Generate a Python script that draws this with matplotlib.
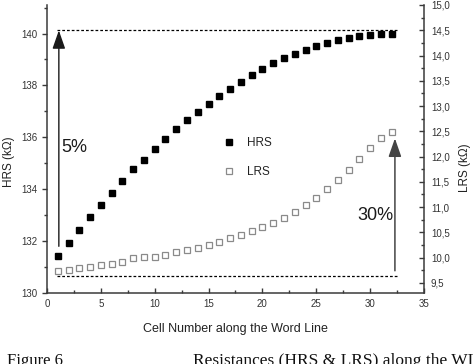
import matplotlib
matplotlib.use("Agg")
import matplotlib.pyplot as plt
from matplotlib.ticker import MultipleLocator, FuncFormatter
from matplotlib.lines import Line2D

cells = list(range(1, 33))
hrs = [131.42, 131.93, 132.43, 132.93, 133.41, 133.86, 134.32, 134.76, 135.14, 135.55,
       135.95, 136.31, 136.65, 136.99, 137.30, 137.59, 137.88, 138.14, 138.40, 138.62,
       138.85, 139.04, 139.22, 139.37, 139.51, 139.64, 139.74, 139.82, 139.91, 139.96,
       139.99, 140.00]
lrs = [9.73, 9.75, 9.79, 9.81, 9.85, 9.87, 9.91, 9.99, 10.01, 10.01,
       10.06, 10.11, 10.15, 10.20, 10.25, 10.31, 10.38, 10.45, 10.53, 10.60,
       10.69, 10.79, 10.91, 11.04, 11.19, 11.35, 11.53, 11.73, 11.95, 12.16,
       12.36, 12.48]

plt.rcParams['font.family'] = ['Liberation Sans', 'DejaVu Sans']

W, H = 474, 364
fig = plt.figure(figsize=(W / 100, H / 100), dpi=100)
ax = fig.add_axes([47 / W, (H - 293) / H, (424 - 47) / W, (293 - 5) / H])
ax2 = ax.twinx()

spine_c = '#3a3a3a'
txt_c = '#333333'

ax.plot(cells, hrs, 's', color='black', markersize=4.8, linestyle='none')
ax2.plot(cells, lrs, 's', markerfacecolor='white', markeredgecolor='#8a8a8a',
         markeredgewidth=0.9, markersize=4.6, linestyle='none')

ax.set_xlim(0, 35)
ax.set_ylim(130, 141.1)
ax2.set_ylim(9.3, 15.0)

# reference dashed lines
ax.hlines([140.15, 130.64], 0.9, 32.5, colors='black', linestyles=(0, (2.2, 1.6)), linewidth=0.9)

# arrows
ax.annotate('', xy=(1.1, 140.12), xytext=(1.1, 131.8),
            arrowprops=dict(arrowstyle='-|>,head_length=0.8,head_width=0.28',
                            color='#1a1a1a', lw=1.0, shrinkA=0, shrinkB=0, mutation_scale=14))
ax2.annotate('', xy=(32.3, 12.36), xytext=(32.3, 9.74),
             arrowprops=dict(arrowstyle='-|>,head_length=0.8,head_width=0.28',
                             color='#444444', lw=1.1, shrinkA=0, shrinkB=0, mutation_scale=14))
ax.text(1.35, 135.6, '5%', fontsize=13, color='#1a1a1a', va='center', ha='left')
ax2.text(32.15, 10.84, '30%', fontsize=13, color='#1a1a1a', va='center', ha='right')

# spines
for a in (ax, ax2):
    a.spines['top'].set_visible(False)
    for s in ('left', 'right', 'bottom'):
        a.spines[s].set_color(spine_c)
        a.spines[s].set_linewidth(1.1)
ax.spines['right'].set_visible(False)
ax2.spines['left'].set_visible(False)
ax2.spines['bottom'].set_visible(False)

ax.xaxis.set_major_locator(MultipleLocator(5))
ax.xaxis.set_minor_locator(MultipleLocator(2.5))
ax.yaxis.set_major_locator(MultipleLocator(2))
ax.yaxis.set_minor_locator(MultipleLocator(1))
ax2.yaxis.set_major_locator(MultipleLocator(0.5))
ax2.yaxis.set_minor_locator(MultipleLocator(0.25))
ax2.yaxis.set_major_formatter(FuncFormatter(lambda v, p: f"{v:.1f}".replace('.', ',')))

ax.tick_params(axis='x', which='both', direction='in', colors=spine_c, labelcolor=txt_c,
               labelsize=7, width=1.0, pad=4)
ax.tick_params(axis='x', which='major', length=3.5)
ax.tick_params(axis='x', which='minor', length=2.5)
ax.tick_params(axis='y', which='both', direction='out', colors=spine_c, labelcolor=txt_c,
               labelsize=7, width=1.0)
ax.tick_params(axis='y', which='major', length=3.5)
ax.tick_params(axis='y', which='minor', length=2.5)
ax2.tick_params(axis='y', which='both', direction='in', colors=spine_c, labelcolor=txt_c,
                labelsize=7, width=1.0, pad=5)
ax2.tick_params(axis='y', which='major', length=3.5)
ax2.tick_params(axis='y', which='minor', length=2.5)

ax.set_xlabel('Cell Number along the Word Line', fontsize=9, color='#222222')
ax.set_ylabel('HRS (kΩ)', fontsize=8.5, color='#222222')
ax2.set_ylabel('LRS (kΩ)', fontsize=8.5, color='#222222')
ax.xaxis.set_label_coords(0.5, -0.105)
ax.yaxis.set_label_coords(-0.086, 0.455)
ax2.yaxis.set_label_coords(1.092, 0.434)

handles = [Line2D([], [], marker='s', color='black', linestyle='none', markersize=4.8),
           Line2D([], [], marker='s', markerfacecolor='white', markeredgecolor='#8a8a8a',
                  markeredgewidth=0.9, linestyle='none', markersize=4.6)]
leg = fig.legend(handles, ['HRS', 'LRS'], loc='upper left',
                 bbox_to_anchor=(223 / W, 1 - 137 / H), frameon=False, fontsize=8.5,
                 handlelength=1.0, handletextpad=1.0, labelspacing=1.45,
                 borderpad=0, borderaxespad=0)
for t in leg.get_texts():
    t.set_color('#222222')

# caption (cropped at bottom in the reference)
fig.text(7 / W, 1 - 353 / H, 'Figure 6', fontsize=12, family='Liberation Serif',
         va='top', ha='left', color='#111111')
fig.text(193 / W, 1 - 353 / H, 'Resistances (HRS & LRS) along the WL', fontsize=12.5,
         family='Liberation Serif', va='top', ha='left', color='#111111')

fig.savefig('out.png', dpi=100)
